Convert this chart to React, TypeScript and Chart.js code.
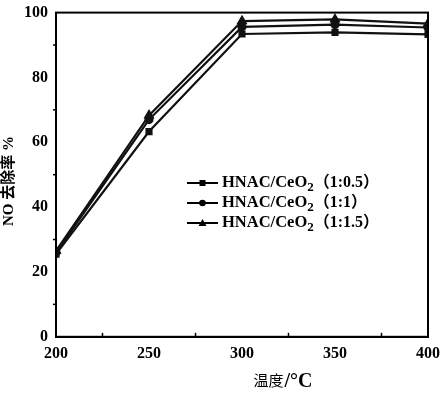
import React, { useEffect, useRef } from "react";
import { Chart, registerables } from "chart.js";

Chart.register(...registerables);

const temps = [200, 250, 300, 350, 400];
const ratio05 = [25.5, 63.3, 93.4, 93.9, 93.3];
const ratio1 = [26.0, 67.0, 95.6, 96.3, 95.4];
const ratio15 = [26.5, 68.3, 97.4, 97.9, 96.6];
const seriesLabels = ["HNAC/CeO2（1:0.5）", "HNAC/CeO2（1:1）", "HNAC/CeO2（1:1.5）"];
const seriesMarkers = ["rect", "circle", "triangle"];
const xTicks = [200, 250, 300, 350, 400];
const yTicks = [0, 20, 40, 60, 80, 100];
const xTitleCJK = "温度";
const xTitleUnit = "/°C";
const yTitle = "NO 去除率 %";

const SERIF = '"Liberation Serif", "Times New Roman", serif';

const framePlugin = {
  id: "frame",
  afterDraw(chart: any) {
    const { ctx, chartArea } = chart;
    const xs = chart.scales.x;
    const ys = chart.scales.y;
    ctx.save();
    ctx.strokeStyle = "#000";
    ctx.lineWidth = 2;
    ctx.strokeRect(chartArea.left, chartArea.top, chartArea.right - chartArea.left, chartArea.bottom - chartArea.top);
    // minor ticks
    ctx.lineWidth = 1.5;
    for (let v = 225; v < 400; v += 50) {
      const px = xs.getPixelForValue(v);
      ctx.beginPath();
      ctx.moveTo(px, chartArea.bottom);
      ctx.lineTo(px, chartArea.bottom - 4);
      ctx.stroke();
    }
    for (let v = 10; v < 100; v += 20) {
      const py = ys.getPixelForValue(v);
      ctx.beginPath();
      ctx.moveTo(chartArea.left, py);
      ctx.lineTo(chartArea.left - 3, py);
      ctx.stroke();
    }
    // x axis title
    ctx.fillStyle = "#000";
    ctx.textBaseline = "alphabetic";
    ctx.textAlign = "left";
    ctx.font = `15px "Noto Sans CJK SC"`;
    const w1 = ctx.measureText(xTitleCJK).width;
    ctx.font = `bold 20px ${SERIF}`;
    const w2 = ctx.measureText(xTitleUnit).width;
    let tx = 283 - (w1 + w2 + 1) / 2;
    ctx.font = `15px "Noto Sans CJK SC"`;
    ctx.fillText(xTitleCJK, tx, 386);
    ctx.font = `bold 20px ${SERIF}`;
    ctx.fillText(xTitleUnit, tx + w1 + 1, 387);
    // y axis title
    ctx.save();
    ctx.translate(9, 181);
    ctx.rotate(-Math.PI / 2);
    ctx.textAlign = "center";
    ctx.textBaseline = "middle";
    ctx.font = `bold 15px ${SERIF}, "Noto Sans CJK SC"`;
    ctx.fillText(yTitle, 0, 0);
    ctx.restore();
    // legend
    const lx = 187;
    const ly0 = 183;
    chart.data.datasets.forEach((ds: any, i: number) => {
      const y = ly0 + i * 20;
      ctx.strokeStyle = "#000";
      ctx.lineWidth = 2;
      ctx.beginPath();
      ctx.moveTo(lx, y);
      ctx.lineTo(lx + 31, y);
      ctx.stroke();
      ctx.fillStyle = "#000";
      const cx = lx + 15.5;
      const m = ds.pointStyle;
      ctx.beginPath();
      if (m === "rect") {
        ctx.fillRect(cx - 3, y - 3, 6, 6);
      } else if (m === "circle") {
        ctx.arc(cx, y, 3.3, 0, Math.PI * 2);
        ctx.fill();
      } else {
        ctx.moveTo(cx, y - 4);
        ctx.lineTo(cx + 4, y + 3);
        ctx.lineTo(cx - 4, y + 3);
        ctx.closePath();
        ctx.fill();
      }
      const label: string = ds.label;
      const idx = label.indexOf("CeO2") + 3;
      const a = label.slice(0, idx);
      const b = label.slice(idx, idx + 1);
      const c = label.slice(idx + 1);
      ctx.textAlign = "left";
      ctx.textBaseline = "middle";
      let x = lx + 35;
      ctx.font = `bold 16.5px ${SERIF}`;
      ctx.fillText(a, x, y);
      x += ctx.measureText(a).width;
      ctx.font = `bold 13px ${SERIF}`;
      ctx.fillText(b, x, y + 5);
      x += ctx.measureText(b).width;
      ctx.font = `bold 16px ${SERIF}, "Noto Sans CJK SC"`;
      ctx.fillText(c, x, y);
    });
    ctx.restore();
  },
};

export default function App() {
  const ref = useRef<HTMLCanvasElement>(null);
  useEffect(() => {
    if (!ref.current) return;
    const seriesValues = [ratio05, ratio1, ratio15];
    const chart = new Chart(ref.current, {
      type: "line",
      data: {
        datasets: seriesValues.map((vals, i) => ({
          label: seriesLabels[i],
          data: temps.map((t, j) => ({ x: t, y: vals[j] })),
          borderColor: "#111",
          backgroundColor: "#111",
          borderWidth: 2.2,
          pointStyle: seriesMarkers[i] as any,
          pointRadius: seriesMarkers[i] === "triangle" ? 4.2 : 3.5,
          pointBackgroundColor: "#111",
          pointBorderColor: "#111",
          tension: 0,
        })),
      },
      options: {
        animation: false,
        responsive: false,
        maintainAspectRatio: false,
        layout: { padding: { left: 8, right: 16, top: 10, bottom: 31 } },
        plugins: { legend: { display: false }, tooltip: { enabled: false } },
        scales: {
          x: {
            type: "linear",
            min: 200,
            max: 400,
            afterBuildTicks: (s: any) => {
              s.ticks = xTicks.map((v) => ({ value: v }));
            },
            grid: { display: false, drawTicks: true, tickLength: 5, tickColor: "#000", tickWidth: 1.5 } as any,
            border: { color: "#000", width: 2 },
            ticks: { color: "#000", font: { family: SERIF, size: 16, weight: "bold" }, padding: 2, maxRotation: 0 },
          },
          y: {
            min: 0,
            max: 100,
            afterBuildTicks: (s: any) => {
              s.ticks = yTicks.map((v) => ({ value: v }));
            },
            afterFit: (s: any) => {
              s.width = 48;
            },
            grid: { display: false, drawTicks: true, tickLength: 5, tickColor: "#000", tickWidth: 1.5 } as any,
            border: { color: "#000", width: 2 },
            ticks: { color: "#000", font: { family: SERIF, size: 16, weight: "bold" }, padding: 3 },
          },
        },
      },
      plugins: [framePlugin],
    });
    return () => chart.destroy();
  }, []);
  return (
    <div style={{ position: "fixed", left: 0, top: 0, width: 444, height: 396, background: "#fff" }}>
      <canvas ref={ref} width={444} height={396} style={{ width: 444, height: 396 }} />
    </div>
  );
}
